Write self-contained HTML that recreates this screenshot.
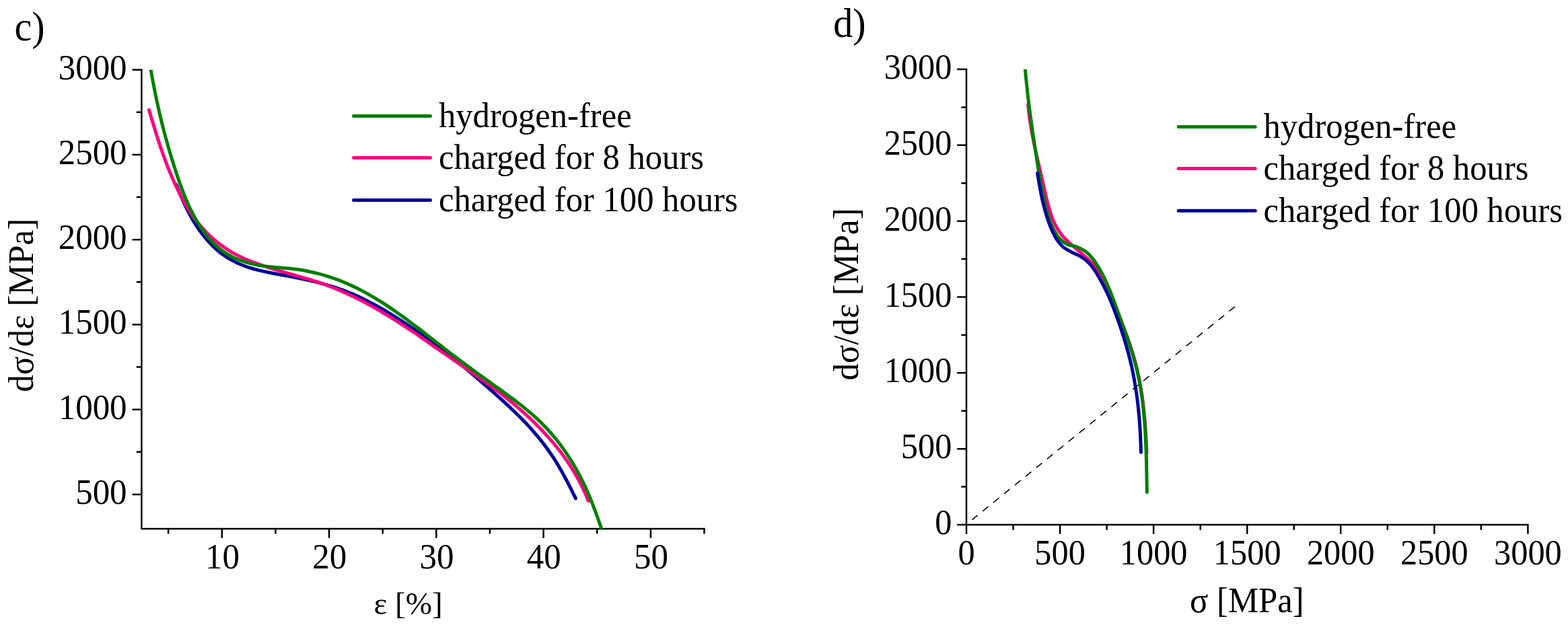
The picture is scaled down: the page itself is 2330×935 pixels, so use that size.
<!DOCTYPE html>
<html lang="en"><head><meta charset="utf-8"><title>Strain hardening rate</title>
<style>
html,body{margin:0;padding:0;background:#fff}
body{width:2330px;height:935px;overflow:hidden}
svg{display:block}
text{font-family:"Liberation Serif","DejaVu Serif",serif;fill:#000}
.ax{stroke:#000;stroke-width:2.5;fill:none}
.cv{fill:none;stroke-width:5.0;stroke-linejoin:round;stroke-linecap:round}
</style></head><body>
<svg width="2330" height="935" viewBox="0 0 2330 935" role="img" aria-label="Strain hardening rate curves">
<rect width="2330" height="935" fill="#fff"/>
<path class="ax" d="M210.40 102.45V787.15M209.15 785.90H1047.75M196.55 735.00H210.40M196.55 608.74H210.40M196.55 482.48H210.40M196.55 356.22H210.40M196.55 229.96H210.40M196.55 103.70H210.40M202.75 671.87H210.40M202.75 545.61H210.40M202.75 419.35H210.40M202.75 293.09H210.40M202.75 166.83H210.40M329.80 785.90V799.75M489.07 785.90V799.75M648.33 785.90V799.75M807.60 785.90V799.75M966.87 785.90V799.75M250.17 785.90V793.55M409.43 785.90V793.55M568.70 785.90V793.55M727.97 785.90V793.55M887.23 785.90V793.55M1046.50 785.90V793.55"/>
<text transform="translate(188.60 749.00) scale(0.9690 1.0000)" font-size="52.6" text-anchor="end">500</text>
<text transform="translate(188.60 622.74) scale(0.9690 1.0000)" font-size="52.6" text-anchor="end">1000</text>
<text transform="translate(188.60 496.48) scale(0.9690 1.0000)" font-size="52.6" text-anchor="end">1500</text>
<text transform="translate(188.60 370.22) scale(0.9690 1.0000)" font-size="52.6" text-anchor="end">2000</text>
<text transform="translate(188.60 243.96) scale(0.9690 1.0000)" font-size="52.6" text-anchor="end">2500</text>
<text transform="translate(188.60 117.70) scale(0.9690 1.0000)" font-size="52.6" text-anchor="end">3000</text>
<text transform="translate(330.40 845.10) scale(0.9690 1.0000)" font-size="52.6" text-anchor="middle">10</text>
<text transform="translate(489.67 845.10) scale(0.9690 1.0000)" font-size="52.6" text-anchor="middle">20</text>
<text transform="translate(648.93 845.10) scale(0.9690 1.0000)" font-size="52.6" text-anchor="middle">30</text>
<text transform="translate(808.20 845.10) scale(0.9690 1.0000)" font-size="52.6" text-anchor="middle">40</text>
<text transform="translate(967.47 845.10) scale(0.9690 1.0000)" font-size="52.6" text-anchor="middle">50</text>
<text transform="translate(606.50 913.00) scale(0.9940 1.0000)" font-size="47.4" text-anchor="middle">ε [%]</text>
<text transform="translate(49.20 453.80) rotate(-90) scale(0.9840 1.0200)" font-size="52.0" text-anchor="middle">dσ/dε [MPa]</text>
<text transform="translate(21.40 60.40) scale(0.9550 1.0000)" font-size="61.0" text-anchor="start">c)</text>
<clipPath id="clipL"><rect x="210.4" y="103.7" width="836.1" height="682.2"/></clipPath>
<clipPath id="clipP"><rect x="210.4" y="103.7" width="836.1" height="643.1"/></clipPath>
<g clip-path="url(#clipL)">
<path class="cv" stroke="#00009b" d="M262.0 274.6C262.9 276.8 265.4 283.3 267.2 287.6C269.0 292.0 270.9 296.4 272.9 300.7C274.9 305.1 277.0 309.4 279.2 313.7C281.5 318.0 283.8 322.3 286.2 326.4C288.7 330.6 291.2 334.7 293.9 338.7C296.6 342.7 299.4 346.6 302.4 350.3C305.3 354.0 308.4 357.7 311.7 361.1C314.9 364.6 318.3 367.9 321.9 371.0C325.4 374.1 329.1 377.0 333.0 379.7C336.9 382.4 340.9 384.9 345.1 387.1C349.2 389.4 353.5 391.5 357.9 393.3C362.3 395.1 366.8 396.7 371.3 398.2C375.8 399.6 380.4 400.8 385.1 401.9C389.7 403.1 394.4 404.1 399.1 405.0C403.8 406.0 408.6 406.8 413.3 407.7C418.0 408.6 422.7 409.4 427.5 410.3C432.2 411.2 436.9 412.1 441.6 413.1C446.3 414.0 451.0 415.0 455.6 416.0C460.3 417.0 464.9 418.1 469.6 419.2C474.2 420.4 478.8 421.6 483.4 422.8C487.9 424.1 492.5 425.5 497.0 426.9C501.5 428.4 506.0 430.0 510.4 431.6C514.8 433.3 519.2 435.1 523.6 436.9C528.0 438.8 532.3 440.8 536.6 442.8C540.9 444.8 545.2 447.0 549.4 449.2C553.6 451.3 557.8 453.6 562.0 456.0C566.2 458.3 570.3 460.7 574.4 463.1C578.6 465.6 582.6 468.1 586.7 470.7C590.8 473.2 594.8 475.8 598.8 478.4C602.8 481.0 606.8 483.7 610.7 486.4C614.7 489.1 618.6 491.8 622.5 494.6C626.4 497.3 630.3 500.1 634.1 502.9C638.0 505.7 641.8 508.5 645.6 511.3C649.5 514.2 653.2 517.1 657.0 520.0C660.8 522.9 664.6 525.8 668.3 528.7C672.0 531.7 675.7 534.6 679.5 537.6C683.2 540.6 686.8 543.6 690.5 546.6C694.2 549.7 697.8 552.7 701.5 555.8C705.1 558.8 708.8 561.9 712.4 565.0C716.0 568.1 719.6 571.2 723.2 574.4C726.8 577.5 730.4 580.7 734.0 583.8C737.5 587.0 741.1 590.2 744.6 593.4C748.2 596.6 751.7 599.8 755.2 603.1C758.7 606.4 762.1 609.7 765.6 613.0C769.0 616.3 772.4 619.7 775.7 623.1C779.0 626.5 782.3 629.9 785.5 633.4C788.7 636.9 791.9 640.5 795.0 644.1C798.1 647.7 801.2 651.3 804.1 655.1C807.1 658.8 810.0 662.6 812.8 666.4C815.6 670.3 818.3 674.2 820.9 678.2C823.6 682.1 826.1 686.2 828.6 690.3C831.0 694.4 833.4 698.6 835.8 702.7C838.1 706.9 840.4 711.2 842.6 715.4C844.8 719.6 847.0 723.9 849.1 728.1C851.2 732.4 854.4 738.8 855.4 740.9"/>
<path class="cv" stroke="#ff007f" clip-path="url(#clipP)" d="M221.5 163.4C222.2 165.7 224.2 172.6 225.5 177.1C226.9 181.7 228.3 186.3 229.7 190.9C231.1 195.4 232.5 200.0 233.9 204.6C235.4 209.1 236.9 213.7 238.4 218.2C240.0 222.7 241.5 227.2 243.2 231.7C244.8 236.2 246.4 240.7 248.2 245.2C249.9 249.7 251.7 254.1 253.5 258.5C255.4 263.0 257.3 267.4 259.3 271.8C261.3 276.2 263.3 280.5 265.5 284.9C267.6 289.2 269.9 293.5 272.2 297.7C274.5 301.9 276.9 306.1 279.5 310.2C282.0 314.3 284.6 318.3 287.4 322.2C290.2 326.1 293.1 330.0 296.1 333.6C299.1 337.3 302.3 340.9 305.5 344.3C308.8 347.7 312.3 351.0 315.8 354.2C319.4 357.3 323.1 360.3 326.9 363.2C330.7 366.0 334.6 368.7 338.6 371.3C342.6 373.8 346.7 376.2 350.9 378.4C355.2 380.7 359.5 382.7 363.8 384.7C368.2 386.6 372.7 388.4 377.1 390.1C381.6 391.8 386.2 393.4 390.7 394.9C395.3 396.5 399.8 397.9 404.4 399.3C409.0 400.7 413.7 402.1 418.3 403.4C422.9 404.8 427.5 406.0 432.2 407.4C436.8 408.7 441.4 410.0 446.0 411.3C450.6 412.6 455.3 414.0 459.8 415.4C464.4 416.8 469.0 418.2 473.5 419.7C478.1 421.3 482.6 422.8 487.1 424.5C491.5 426.2 496.0 427.9 500.4 429.8C504.8 431.6 509.2 433.5 513.5 435.5C517.9 437.4 522.2 439.5 526.5 441.6C530.8 443.7 535.1 445.8 539.3 448.0C543.6 450.3 547.8 452.5 552.0 454.9C556.2 457.2 560.3 459.6 564.5 462.0C568.6 464.4 572.7 466.9 576.8 469.4C580.9 471.9 585.0 474.4 589.0 477.0C593.1 479.6 597.1 482.2 601.1 484.8C605.1 487.4 609.1 490.1 613.1 492.8C617.1 495.5 621.0 498.2 624.9 500.9C628.9 503.6 632.8 506.3 636.8 509.1C640.7 511.8 644.6 514.5 648.5 517.3C652.4 520.0 656.4 522.8 660.3 525.5C664.2 528.2 668.2 530.9 672.1 533.6C676.0 536.3 680.0 539.0 683.9 541.7C687.8 544.4 691.8 547.2 695.7 549.9C699.6 552.6 703.6 555.3 707.5 558.1C711.4 560.8 715.3 563.6 719.2 566.4C723.1 569.2 726.9 572.0 730.8 574.9C734.6 577.7 738.5 580.6 742.3 583.6C746.1 586.5 749.9 589.5 753.6 592.5C757.4 595.5 761.1 598.5 764.8 601.6C768.4 604.7 772.1 607.9 775.7 611.1C779.3 614.2 782.8 617.5 786.3 620.7C789.8 624.0 793.3 627.3 796.7 630.7C800.1 634.1 803.4 637.5 806.7 641.0C810.0 644.5 813.2 648.0 816.3 651.6C819.5 655.1 822.6 658.8 825.6 662.5C828.6 666.2 831.5 669.9 834.4 673.7C837.2 677.6 840.0 681.4 842.7 685.4C845.4 689.3 848.0 693.3 850.5 697.4C853.0 701.5 855.5 705.6 857.8 709.8C860.1 714.0 862.3 718.2 864.5 722.5C866.6 726.8 868.6 731.2 870.5 735.6C872.5 740.0 875.1 746.8 876.0 749.0"/>
<path class="cv" stroke="#008000" d="M223.6 100.5C224.0 102.9 225.2 110.0 226.1 114.8C227.0 119.5 227.8 124.2 228.8 128.9C229.7 133.6 230.6 138.3 231.6 143.0C232.5 147.7 233.5 152.4 234.6 157.0C235.6 161.7 236.6 166.3 237.7 170.9C238.8 175.5 239.9 180.2 241.1 184.8C242.2 189.4 243.4 194.0 244.6 198.6C245.8 203.2 247.1 207.7 248.4 212.3C249.6 216.9 251.0 221.5 252.3 226.0C253.7 230.6 255.0 235.2 256.5 239.7C257.9 244.3 259.3 248.9 260.8 253.4C262.3 258.0 263.8 262.5 265.4 267.1C267.0 271.7 268.6 276.2 270.3 280.7C272.0 285.2 273.8 289.8 275.6 294.2C277.5 298.7 279.4 303.1 281.4 307.5C283.5 311.8 285.6 316.1 287.9 320.4C290.1 324.6 292.5 328.8 295.1 332.9C297.6 336.9 300.3 340.9 303.1 344.8C306.0 348.7 309.0 352.5 312.1 356.1C315.3 359.6 318.6 363.1 322.2 366.2C325.7 369.3 329.4 372.3 333.3 374.9C337.2 377.5 341.3 379.8 345.4 381.9C349.6 384.0 354.0 385.8 358.4 387.4C362.9 389.0 367.5 390.4 372.1 391.6C376.7 392.8 381.4 393.7 386.1 394.6C390.9 395.4 395.7 396.0 400.4 396.5C405.2 397.1 410.0 397.4 414.8 397.8C419.6 398.3 424.5 398.6 429.2 399.1C434.0 399.6 438.8 400.1 443.6 400.8C448.3 401.4 453.0 402.2 457.7 403.2C462.4 404.1 467.1 405.2 471.7 406.4C476.4 407.6 481.0 408.9 485.5 410.3C490.1 411.7 494.6 413.3 499.1 414.9C503.6 416.5 508.0 418.3 512.4 420.1C516.8 422.0 521.2 423.9 525.5 426.0C529.8 428.0 534.1 430.2 538.3 432.4C542.5 434.6 546.7 436.9 550.8 439.3C554.9 441.7 559.0 444.1 563.1 446.6C567.1 449.2 571.1 451.7 575.1 454.4C579.1 457.0 583.1 459.7 587.0 462.5C590.9 465.2 594.8 468.0 598.7 470.8C602.6 473.6 606.5 476.5 610.3 479.4C614.1 482.2 618.0 485.2 621.8 488.1C625.6 491.0 629.4 493.9 633.2 496.9C637.0 499.8 640.8 502.8 644.5 505.8C648.3 508.7 652.1 511.7 655.9 514.6C659.7 517.5 663.4 520.5 667.2 523.4C671.0 526.3 674.8 529.1 678.6 532.0C682.4 534.9 686.2 537.7 690.0 540.6C693.8 543.4 697.7 546.2 701.5 549.0C705.3 551.9 709.2 554.7 713.0 557.5C716.9 560.3 720.7 563.0 724.6 565.8C728.5 568.6 732.4 571.4 736.3 574.2C740.2 577.0 744.1 579.8 748.0 582.6C751.9 585.5 755.8 588.3 759.7 591.2C763.5 594.0 767.4 596.9 771.2 599.9C774.9 602.8 778.7 605.8 782.4 608.9C786.1 612.0 789.7 615.1 793.3 618.2C796.9 621.4 800.4 624.7 803.8 628.0C807.2 631.4 810.5 634.8 813.7 638.3C817.0 641.8 820.1 645.4 823.1 649.0C826.2 652.7 829.1 656.4 832.0 660.2C834.9 664.0 837.7 667.9 840.4 671.8C843.1 675.8 845.7 679.8 848.2 683.8C850.7 687.9 853.2 692.0 855.6 696.1C857.9 700.3 860.2 704.5 862.4 708.8C864.6 713.0 866.7 717.3 868.8 721.7C870.8 726.0 872.7 730.4 874.6 734.8C876.5 739.2 878.3 743.6 880.1 748.1C881.8 752.6 883.5 757.0 885.1 761.5C886.8 766.0 888.4 770.5 890.0 775.0C891.6 779.5 894.0 786.3 894.8 788.5"/>
</g>
<path class="cv" stroke="#008000" d="M525.5 172.5H639.5"/>
<text transform="translate(652.00 189.20) scale(0.9735 1.0000)" font-size="52.0" text-anchor="start">hydrogen-free</text>
<path class="cv" stroke="#ff007f" d="M525.5 234.5H639.5"/>
<text transform="translate(652.00 251.20) scale(0.9735 1.0000)" font-size="52.0" text-anchor="start">charged for 8 hours</text>
<path class="cv" stroke="#00009b" d="M525.5 297.4H639.5"/>
<text transform="translate(652.00 314.10) scale(0.9735 1.0000)" font-size="52.0" text-anchor="start">charged for 100 hours</text>
<path class="ax" d="M1436.05 101.75V793.85M1422.20 780.00H2271.65M1422.20 667.17H1436.05M1575.11 780.00V793.85M1422.20 554.33H1436.05M1714.17 780.00V793.85M1422.20 441.50H1436.05M1853.22 780.00V793.85M1422.20 328.67H1436.05M1992.28 780.00V793.85M1422.20 215.83H1436.05M2131.34 780.00V793.85M1422.20 103.00H1436.05M2270.40 780.00V793.85M1428.40 723.58H1436.05M1505.58 780.00V787.65M1428.40 610.75H1436.05M1644.64 780.00V787.65M1428.40 497.92H1436.05M1783.70 780.00V787.65M1428.40 385.08H1436.05M1922.75 780.00V787.65M1428.40 272.25H1436.05M2061.81 780.00V787.65M1428.40 159.42H1436.05M2200.87 780.00V787.65"/>
<text transform="translate(1414.40 794.00) scale(0.9580 1.0000)" font-size="52.6" text-anchor="end">0</text>
<text transform="translate(1436.05 839.30) scale(0.9580 1.0000)" font-size="52.6" text-anchor="middle">0</text>
<text transform="translate(1414.40 681.17) scale(0.9580 1.0000)" font-size="52.6" text-anchor="end">500</text>
<text transform="translate(1575.11 839.30) scale(0.9580 1.0000)" font-size="52.6" text-anchor="middle">500</text>
<text transform="translate(1414.40 568.33) scale(0.9580 1.0000)" font-size="52.6" text-anchor="end">1000</text>
<text transform="translate(1714.17 839.30) scale(0.9580 1.0000)" font-size="52.6" text-anchor="middle">1000</text>
<text transform="translate(1414.40 455.50) scale(0.9580 1.0000)" font-size="52.6" text-anchor="end">1500</text>
<text transform="translate(1853.22 839.30) scale(0.9580 1.0000)" font-size="52.6" text-anchor="middle">1500</text>
<text transform="translate(1414.40 342.67) scale(0.9580 1.0000)" font-size="52.6" text-anchor="end">2000</text>
<text transform="translate(1992.28 839.30) scale(0.9580 1.0000)" font-size="52.6" text-anchor="middle">2000</text>
<text transform="translate(1414.40 229.83) scale(0.9580 1.0000)" font-size="52.6" text-anchor="end">2500</text>
<text transform="translate(2131.34 839.30) scale(0.9580 1.0000)" font-size="52.6" text-anchor="middle">2500</text>
<text transform="translate(1414.40 117.00) scale(0.9580 1.0000)" font-size="52.6" text-anchor="end">3000</text>
<text transform="translate(2270.40 839.30) scale(0.9580 1.0000)" font-size="52.6" text-anchor="middle">3000</text>
<text transform="translate(1852.90 909.80) scale(0.9670 1.0000)" font-size="52.5" text-anchor="middle">σ [MPa]</text>
<text transform="translate(1275.30 437.50) rotate(-90) scale(0.9770 1.0100)" font-size="52.0" text-anchor="middle">dσ/dε [MPa]</text>
<text transform="translate(1238.20 55.00) scale(0.9550 1.0000)" font-size="61.0" text-anchor="start">d)</text>
<clipPath id="clipR"><rect x="1436.0" y="103.0" width="834.4" height="677.0"/></clipPath>
<g clip-path="url(#clipR)">
<path class="cv" stroke="#ff007f" d="M1527.6 155.2C1527.9 157.6 1528.6 164.9 1529.2 169.7C1529.8 174.5 1530.5 179.2 1531.2 184.0C1531.9 188.7 1532.8 193.4 1533.6 198.1C1534.5 202.8 1535.4 207.5 1536.3 212.2C1537.3 216.9 1538.3 221.5 1539.3 226.2C1540.3 230.8 1541.4 235.5 1542.5 240.1C1543.5 244.8 1544.6 249.5 1545.7 254.1C1546.8 258.8 1547.9 263.5 1549.0 268.2C1550.1 272.9 1551.2 277.7 1552.2 282.4C1553.3 287.2 1554.3 292.0 1555.5 296.7C1556.6 301.4 1557.8 306.2 1559.2 310.8C1560.6 315.4 1562.0 320.0 1563.8 324.4C1565.5 328.8 1567.5 333.2 1569.8 337.3C1572.1 341.4 1574.7 345.3 1577.6 349.0C1580.6 352.7 1584.0 356.1 1587.5 359.5C1591.0 362.9 1594.8 366.0 1598.5 369.2C1602.1 372.4 1605.9 375.4 1609.5 378.6C1613.1 381.8 1616.7 384.9 1620.0 388.3C1623.3 391.7 1626.4 395.2 1629.4 399.0C1632.3 402.7 1634.9 406.8 1637.4 410.9C1639.9 415.1 1642.3 419.4 1644.5 423.7C1646.7 428.0 1648.7 432.4 1650.6 436.8C1652.6 441.2 1654.3 445.6 1656.0 450.1C1657.7 454.6 1659.3 459.0 1661.0 463.5C1662.7 468.0 1664.4 472.5 1666.1 477.0C1667.8 481.5 1669.6 486.0 1671.2 490.5C1672.9 495.0 1674.6 499.5 1676.2 504.1C1677.8 508.6 1679.4 513.1 1680.9 517.7C1682.4 522.3 1683.8 526.9 1685.1 531.5C1686.4 536.1 1687.7 540.8 1688.8 545.4C1690.0 550.1 1691.0 554.8 1692.0 559.5C1693.0 564.1 1693.9 568.9 1694.7 573.6C1695.5 578.3 1696.3 583.1 1697.0 587.8C1697.7 592.6 1698.3 597.3 1698.9 602.1C1699.4 606.9 1699.9 611.6 1700.4 616.4C1700.9 621.2 1701.3 626.0 1701.6 630.8C1702.0 635.6 1702.3 640.4 1702.6 645.2C1702.9 650.0 1703.2 654.8 1703.4 659.6C1703.6 664.4 1703.9 671.6 1704.0 674.0"/>
<path class="cv" stroke="#008000" d="M1523.2 100.5C1523.4 102.9 1524.0 110.2 1524.5 115.0C1525.0 119.8 1525.5 124.6 1526.0 129.4C1526.5 134.2 1527.0 139.0 1527.6 143.8C1528.1 148.6 1528.7 153.4 1529.3 158.2C1529.9 163.0 1530.6 167.8 1531.2 172.6C1531.8 177.3 1532.5 182.1 1533.2 186.9C1533.8 191.7 1534.5 196.5 1535.2 201.2C1535.9 206.0 1536.7 210.8 1537.4 215.6C1538.1 220.4 1538.8 225.2 1539.6 230.0C1540.3 234.7 1541.0 239.5 1541.8 244.3C1542.6 249.1 1543.4 253.9 1544.2 258.7C1545.0 263.5 1545.8 268.3 1546.7 273.0C1547.6 277.8 1548.6 282.5 1549.5 287.3C1550.5 292.0 1551.6 296.7 1552.7 301.3C1553.8 306.0 1554.9 310.7 1556.2 315.3C1557.5 319.9 1558.9 324.4 1560.6 329.0C1562.3 333.5 1564.1 338.2 1566.4 342.5C1568.8 346.8 1571.3 351.4 1574.6 354.8C1577.8 358.3 1581.7 361.2 1586.0 363.2C1590.2 365.3 1595.8 365.3 1600.2 367.0C1604.7 368.7 1609.0 370.7 1612.8 373.5C1616.5 376.2 1619.8 379.7 1622.9 383.4C1625.9 387.0 1628.6 391.2 1631.2 395.3C1633.8 399.4 1636.1 403.7 1638.4 408.0C1640.6 412.3 1642.7 416.7 1644.7 421.2C1646.6 425.6 1648.5 430.0 1650.3 434.5C1652.1 439.0 1653.7 443.5 1655.4 448.0C1657.1 452.5 1658.7 457.0 1660.3 461.6C1662.0 466.1 1663.7 470.6 1665.3 475.2C1667.0 479.7 1668.6 484.3 1670.3 488.8C1671.9 493.4 1673.5 497.9 1675.1 502.5C1676.7 507.1 1678.3 511.7 1679.7 516.3C1681.2 520.9 1682.7 525.6 1684.0 530.2C1685.4 534.8 1686.7 539.5 1687.9 544.2C1689.1 548.8 1690.2 553.5 1691.2 558.3C1692.2 563.0 1693.1 567.7 1694.0 572.4C1694.8 577.2 1695.6 582.0 1696.3 586.7C1697.0 591.5 1697.7 596.3 1698.2 601.1C1698.8 605.9 1699.3 610.7 1699.8 615.5C1700.2 620.3 1700.6 625.2 1701.0 630.0C1701.4 634.8 1701.7 639.6 1701.9 644.5C1702.2 649.3 1702.4 654.2 1702.6 659.0C1702.9 663.9 1703.0 668.7 1703.2 673.5C1703.3 678.4 1703.5 683.2 1703.6 688.1C1703.7 692.9 1703.8 697.8 1703.9 702.6C1704.0 707.4 1704.0 712.2 1704.1 717.1C1704.2 721.9 1704.4 729.1 1704.4 731.5"/>
<path class="cv" stroke="#00009b" d="M1541.6 257.3C1542.0 259.7 1543.2 267.0 1544.0 271.9C1544.9 276.7 1545.7 281.6 1546.7 286.5C1547.7 291.3 1548.7 296.2 1549.8 301.0C1551.0 305.8 1552.2 310.6 1553.6 315.4C1554.9 320.1 1556.4 324.9 1558.1 329.6C1559.8 334.2 1561.6 339.0 1563.7 343.5C1565.8 348.0 1568.0 352.6 1570.7 356.6C1573.5 360.5 1576.5 364.4 1580.2 367.4C1583.8 370.5 1588.4 372.6 1592.7 375.0C1597.1 377.3 1602.0 378.9 1606.1 381.5C1610.3 384.1 1614.2 387.0 1617.6 390.5C1621.1 393.9 1624.0 398.0 1626.8 402.1C1629.7 406.2 1632.2 410.7 1634.6 415.0C1637.1 419.3 1639.4 423.7 1641.6 428.2C1643.8 432.6 1645.9 437.1 1647.9 441.6C1649.9 446.1 1651.7 450.6 1653.6 455.2C1655.4 459.7 1657.1 464.3 1658.8 469.0C1660.5 473.6 1662.2 478.2 1663.8 482.9C1665.4 487.6 1666.9 492.3 1668.4 497.0C1670.0 501.7 1671.4 506.5 1672.8 511.2C1674.2 516.0 1675.6 520.8 1676.8 525.5C1678.1 530.3 1679.3 535.2 1680.5 540.0C1681.6 544.8 1682.6 549.6 1683.6 554.5C1684.6 559.3 1685.5 564.2 1686.3 569.1C1687.2 573.9 1687.9 578.8 1688.6 583.7C1689.4 588.6 1690.0 593.5 1690.6 598.4C1691.1 603.3 1691.7 608.2 1692.1 613.1C1692.6 618.0 1693.0 623.0 1693.4 627.9C1693.7 632.8 1694.0 637.8 1694.3 642.7C1694.6 647.6 1694.8 652.6 1695.0 657.5C1695.2 662.5 1695.4 669.9 1695.5 672.4"/>
</g>
<path d="M1444.40 772.70L1834.95 455.85" stroke="#000" stroke-width="1.6" stroke-dasharray="10.9 9.6" fill="none"/>
<path class="cv" stroke="#008000" d="M1751.2 188.5H1865.2"/>
<text transform="translate(1877.50 204.80) scale(0.9735 1.0000)" font-size="52.0" text-anchor="start">hydrogen-free</text>
<path class="cv" stroke="#ff007f" d="M1751.2 250.5H1865.2"/>
<text transform="translate(1877.50 266.80) scale(0.9735 1.0000)" font-size="52.0" text-anchor="start">charged for 8 hours</text>
<path class="cv" stroke="#00009b" d="M1751.2 313.2H1865.2"/>
<text transform="translate(1877.50 329.50) scale(0.9735 1.0000)" font-size="52.0" text-anchor="start">charged for 100 hours</text>
</svg>
</body></html>
